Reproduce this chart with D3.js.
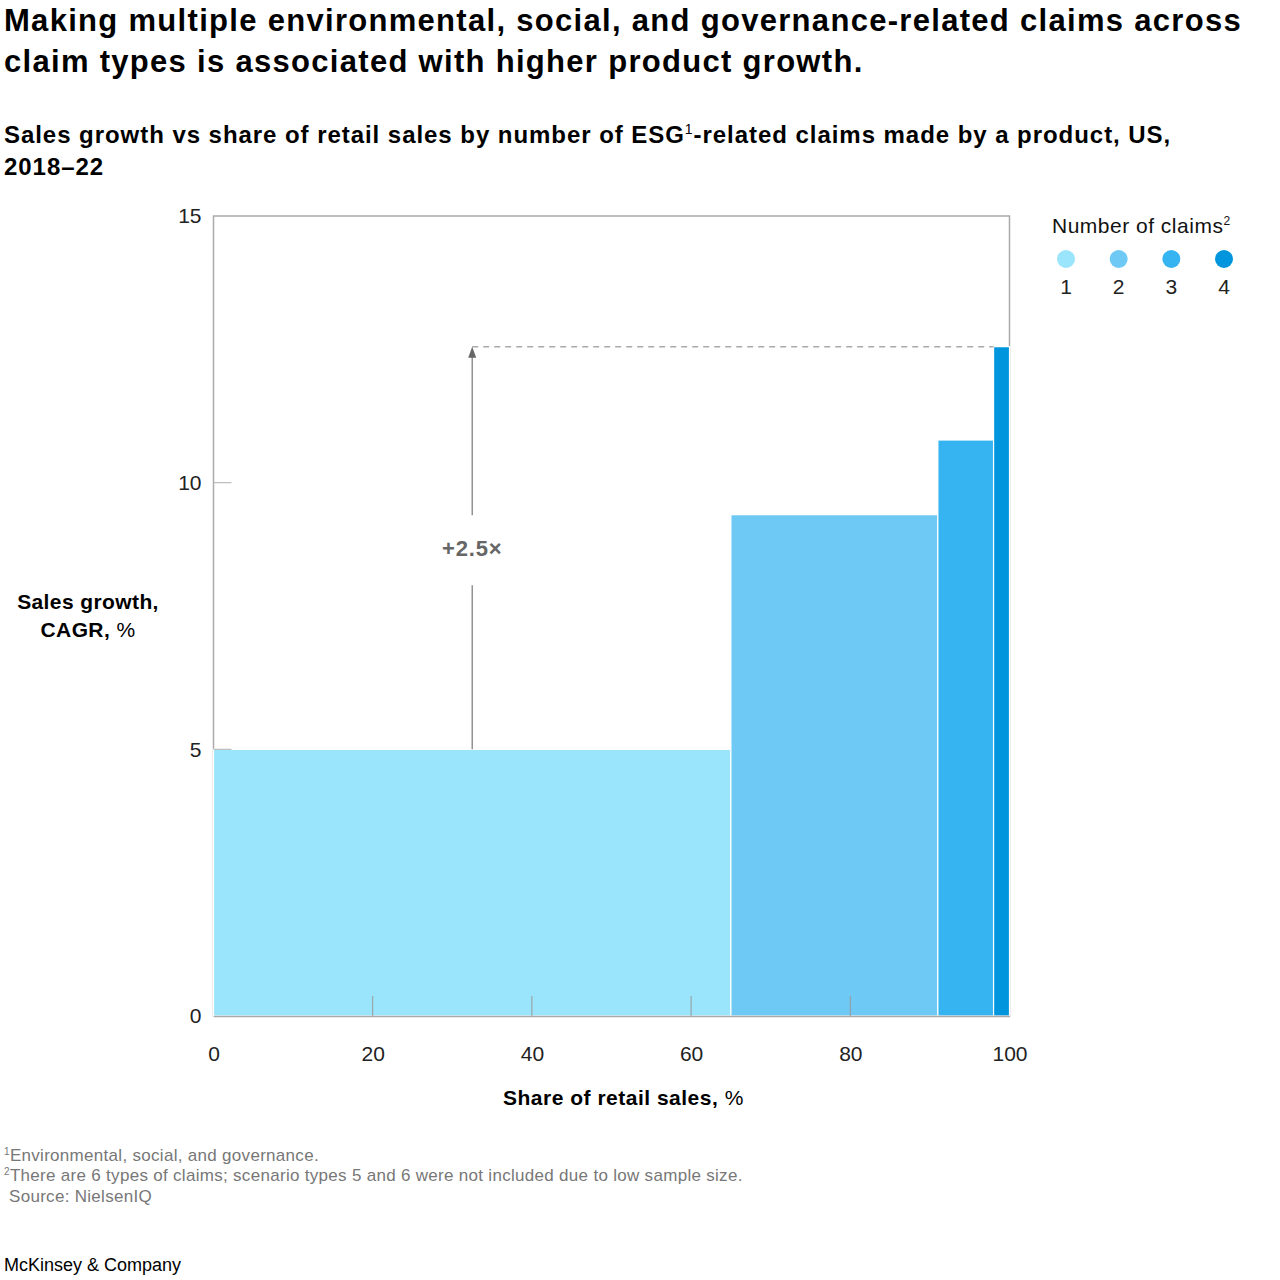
<!DOCTYPE html>
<html>
<head>
<meta charset="utf-8">
<script src="https://cdn.jsdelivr.net/npm/d3@7"></script>
<style>
  body { margin: 0; background: #fff; }
  svg { font-family: "Liberation Sans", Arial, sans-serif; }
</style>
</head>
<body>
<div id="chart"></div>
<script>
// number of claims, share of retail sales (%), sales growth CAGR (%)
const claims = ["1", "2", "3", "4"];
const shares = [65, 26, 7, 2];
const growth = [5.0, 9.4, 10.8, 12.55];
const colors = ["#9be5fc", "#6fc9f5", "#36b4f2", "#0095dc"];
const xTicks = [0, 20, 40, 60, 80, 100];
const yTicks = [0, 5, 10, 15];
const upliftLabel = "+2.5×";

const W = 1280, H = 1280;
const margin = {top: 216, left: 213.5, right: 270.5, bottom: 264};
const width = W - margin.left - margin.right,
      height = H - margin.top - margin.bottom;

const svg = d3.select("#chart").append("svg")
    .attr("width", W).attr("height", H);

// titles
const title = svg.append("text").attr("x", 4).attr("y", 31)
    .attr("font-size", 31).attr("font-weight", "bold").attr("fill", "#000")
    .attr("letter-spacing", 1.3);
title.append("tspan").attr("x", 4).text("Making multiple environmental, social, and governance-related claims across");
title.append("tspan").attr("x", 4).attr("dy", 41).text("claim types is associated with higher product growth.");

const sub = svg.append("text").attr("x", 4).attr("y", 143)
    .attr("font-size", 24).attr("font-weight", "bold").attr("fill", "#000")
    .attr("letter-spacing", 0.95);
const l1 = sub.append("tspan").attr("x", 4);
l1.append("tspan").text("Sales growth vs share of retail sales by number of ESG");
l1.append("tspan").attr("font-size", 14).attr("dy", -9).attr("font-weight", "normal").text("1");
l1.append("tspan").attr("dy", 9).text("-related claims made by a product, US,");
sub.append("tspan").attr("x", 4).attr("dy", 32).text("2018–22");

const g = svg.append("g").attr("transform", `translate(${margin.left},${margin.top})`);

const x = d3.scaleLinear().domain([0, 100]).range([0, width]);
const y = d3.scaleLinear().domain([0, 15]).range([height, 0]);

const data = claims.map((c, i) => ({
  claims: c,
  x0: d3.sum(shares.slice(0, i)),
  x1: d3.sum(shares.slice(0, i + 1)),
  value: growth[i],
  color: colors[i]
}));

// frame
g.append("rect").attr("width", width).attr("height", height)
    .attr("fill", "none").attr("stroke", "#aaa").attr("stroke-width", 1.5);

// bars
g.selectAll(".bar").data(data).enter().append("rect")
    .attr("class", "bar")
    .attr("x", d => x(d.x0))
    .attr("width", d => x(d.x1) - x(d.x0))
    .attr("y", d => y(d.value))
    .attr("height", d => y(0) - y(d.value))
    .attr("fill", d => d.color)
    .attr("stroke", "#fff").attr("stroke-width", 1.2);

// x axis (ticks drawn inward from bottom)
const xAxis = g.append("g").attr("transform", `translate(0,${height})`)
    .call(d3.axisBottom(x).tickValues(xTicks).tickSize(0).tickPadding(30));
xAxis.select(".domain").attr("stroke", "#aaa").attr("stroke-width", 1.5);
xAxis.selectAll("text").attr("font-size", 21).attr("fill", "#222");
g.append("g").selectAll("line").data(xTicks.filter(t => t > 0 && t < 100)).enter().append("line")
    .attr("x1", d => x(d)).attr("x2", d => x(d))
    .attr("y1", height).attr("y2", height - 20)
    .attr("stroke", "#999").attr("stroke-width", 1);

// y axis (ticks drawn inward from left)
const yAxis = g.append("g")
    .call(d3.axisLeft(y).tickValues(yTicks).tickSize(0).tickPadding(12));
yAxis.select(".domain").remove();
yAxis.selectAll("text").attr("font-size", 21).attr("fill", "#222");
g.append("g").selectAll("line").data(yTicks.filter(t => t > 0 && t < 15)).enter().append("line")
    .attr("x1", 0).attr("x2", 18)
    .attr("y1", d => y(d)).attr("y2", d => y(d))
    .attr("stroke", "#bbb").attr("stroke-width", 1.2);

// axis titles
const yt = svg.append("text").attr("text-anchor", "middle").attr("font-size", 21)
    .attr("fill", "#000").attr("font-weight", "bold").attr("letter-spacing", 0.4);
yt.append("tspan").attr("x", 88).attr("y", 609).text("Sales growth,");
const yt2 = yt.append("tspan").attr("x", 88).attr("dy", 28);
yt2.append("tspan").text("CAGR, ");
yt2.append("tspan").attr("font-weight", "normal").text("%");

const xt = svg.append("text").attr("x", margin.left + x(51.5)).attr("y", 1105)
    .attr("text-anchor", "middle").attr("font-size", 21).attr("fill", "#000")
    .attr("font-weight", "bold").attr("letter-spacing", 0.5);
xt.append("tspan").text("Share of retail sales, ");
xt.append("tspan").attr("font-weight", "normal").text("%");

// uplift annotation
const ax = x(32.5);
const topY = y(growth[growth.length - 1]);
const baseY = y(growth[0]);
const labelY = y(8.75);
g.append("line").attr("x1", ax).attr("x2", x(data[3].x0))
    .attr("y1", topY).attr("y2", topY)
    .attr("stroke", "#aaa").attr("stroke-width", 1.5).attr("stroke-dasharray", "6,5");
g.append("line").attr("x1", ax).attr("x2", ax)
    .attr("y1", baseY).attr("y2", labelY + 36)
    .attr("stroke", "#777").attr("stroke-width", 1.2);
g.append("line").attr("x1", ax).attr("x2", ax)
    .attr("y1", labelY - 34).attr("y2", topY + 10)
    .attr("stroke", "#777").attr("stroke-width", 1.2);
g.append("path")
    .attr("d", `M${ax},${topY} l-4,11 l8,0 z`)
    .attr("fill", "#666");
g.append("text").attr("x", ax).attr("y", labelY + 7)
    .attr("text-anchor", "middle").attr("font-size", 22).attr("font-weight", "bold")
    .attr("letter-spacing", 0.8).attr("fill", "#666").text(upliftLabel);

// legend
const lg = svg.append("g");
const lt = lg.append("text").attr("x", 1052).attr("y", 233).attr("font-size", 21)
    .attr("letter-spacing", 0.5).attr("fill", "#111");
lt.append("tspan").text("Number of claims");
lt.append("tspan").attr("font-size", 12).attr("dy", -8).text("2");
const lx = d3.scalePoint().domain(claims).range([1066, 1224]);
lg.selectAll("circle").data(data).enter().append("circle")
    .attr("cx", d => lx(d.claims)).attr("cy", 259).attr("r", 9)
    .attr("fill", d => d.color);
lg.selectAll(".lnum").data(data).enter().append("text")
    .attr("class", "lnum")
    .attr("x", d => lx(d.claims)).attr("y", 294)
    .attr("text-anchor", "middle").attr("font-size", 21).attr("fill", "#222")
    .text(d => d.claims);

// footnotes
const fn = svg.append("g").attr("font-size", 17).attr("fill", "#777").attr("letter-spacing", 0.3);
const f1 = fn.append("text").attr("x", 4).attr("y", 1161);
f1.append("tspan").attr("font-size", 10).attr("dy", -6).text("1");
f1.append("tspan").attr("dy", 6).text("Environmental, social, and governance.");
const f2 = fn.append("text").attr("x", 4).attr("y", 1181);
f2.append("tspan").attr("font-size", 10).attr("dy", -6).text("2");
f2.append("tspan").attr("dy", 6).text("There are 6 types of claims; scenario types 5 and 6 were not included due to low sample size.");
fn.append("text").attr("x", 9).attr("y", 1202).text("Source: NielsenIQ");

svg.append("text").attr("x", 4).attr("y", 1271).attr("font-size", 18).attr("fill", "#000")
    .text("McKinsey & Company");
</script>
</body>
</html>
